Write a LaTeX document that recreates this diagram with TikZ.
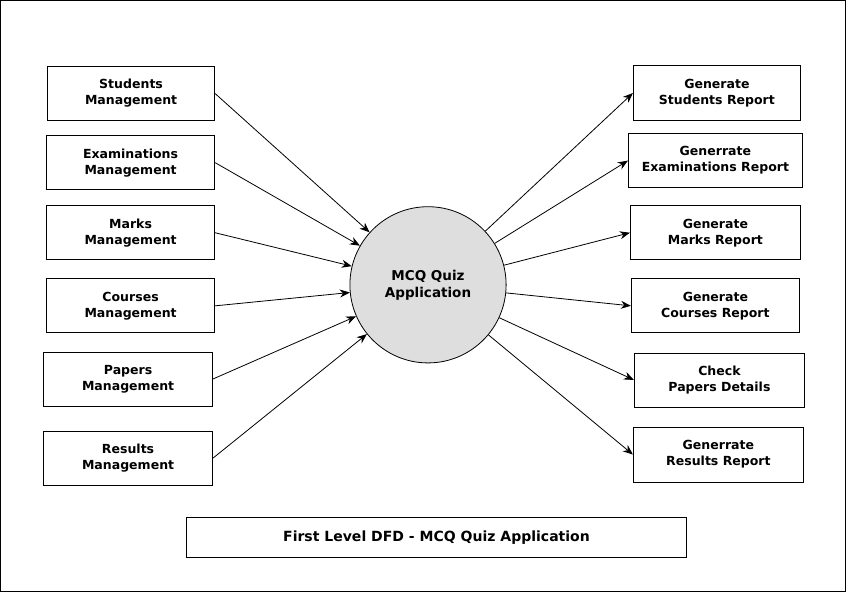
\documentclass[tikz,border=0pt]{standalone}
\usepackage{fontspec}
\setmainfont{DejaVu Sans}
\usetikzlibrary{arrows.meta}
\tikzset{
  procbox/.style={draw,thick,align=center,font=\bfseries\fontsize{12.5}{16}\selectfont,inner sep=0pt},
  flow/.style={draw,thick,-{Stealth[length=10pt,width=8pt]}}
}
\begin{document}
\begin{tikzpicture}[x=1pt,y=-1pt]
\draw[thick] (1,1) rectangle (845,591);

\node[procbox,minimum width=167pt,minimum height=54pt] (stud) at (131.5,94) {Students\\Management};
\node[procbox,minimum width=168pt,minimum height=54pt] (exam) at (131,163) {Examinations\\Management};
\node[procbox,minimum width=168pt,minimum height=54pt] (mark) at (131,233) {Marks\\Management};
\node[procbox,minimum width=168pt,minimum height=54pt] (cour) at (131,306) {Courses\\Management};
\node[procbox,minimum width=169pt,minimum height=54pt] (pape) at (128.5,379) {Papers\\Management};
\node[procbox,minimum width=169pt,minimum height=54pt] (resu) at (128.5,458) {Results\\Management};

\node[procbox,minimum width=167pt,minimum height=55pt] (gstud) at (716.5,93.5) {Generate\\Students Report};
\node[procbox,minimum width=174pt,minimum height=54pt] (gexam) at (715,161) {Generrate\\Examinations Report};
\node[procbox,minimum width=170pt,minimum height=54pt] (gmark) at (715,233) {Generate\\Marks Report};
\node[procbox,minimum width=168pt,minimum height=54pt] (gcour) at (715,306) {Generate\\Courses Report};
\node[procbox,minimum width=170pt,minimum height=54pt] (gpape) at (719,380) {Check\\Papers Details};
\node[procbox,minimum width=170pt,minimum height=55pt] (gresu) at (718,454.5) {Generrate\\Results Report};

\node[draw,thick,circle,fill=black!13,minimum size=156pt,align=center,
  font=\bfseries\fontsize{13.5}{17}\selectfont] (quiz) at (428,285) {MCQ Quiz\\Application};

\node[procbox,minimum width=499pt,minimum height=40pt,font=\bfseries\fontsize{14}{16}\selectfont] (title) at (436.5,537) {First Level DFD - MCQ Quiz Application};

\path[flow] (stud.east) -- (quiz);
\path[flow] (exam.east) -- (quiz);
\path[flow] (mark.east) -- (quiz);
\path[flow] (cour.east) -- (quiz);
\path[flow] (pape.east) -- (quiz);
\path[flow] (resu.east) -- (quiz);

\path[flow] (quiz) -- (gstud.west);
\path[flow] (quiz) -- (gexam.west);
\path[flow] (quiz) -- (gmark.west);
\path[flow] (quiz) -- (gcour.west);
\path[flow] (quiz) -- (gpape.west);
\path[flow] (quiz) -- (gresu.west);
\end{tikzpicture}
\end{document}
